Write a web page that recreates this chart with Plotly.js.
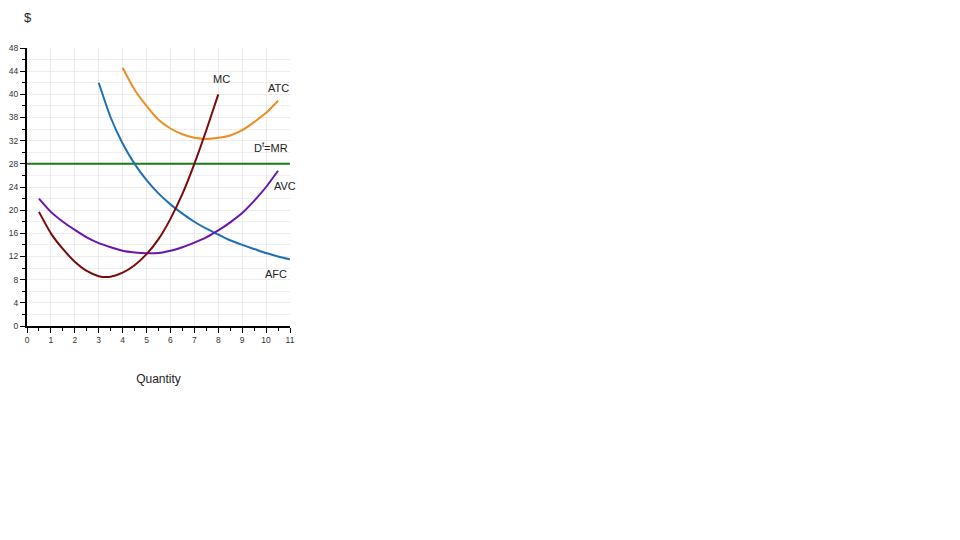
<!DOCTYPE html>
<html><head><meta charset="utf-8">
<script src="https://cdn.plot.ly/plotly-3.0.1.min.js"></script>
<style>html,body{margin:0;padding:0;background:#fff}#chart{width:960px;height:540px}</style>
</head><body><div id="chart"></div>
<script>
var mcQ  = [0.5,1,1.5,2,2.5,3,3.5,4,4.5,5,5.5,6,6.5,7,7.5,8];
var mcV  = [19.7,16,13.3,11.1,9.5,8.6,8.5,9.2,10.5,12.4,15,18.5,22.8,28,33.8,40];
var avcQ = [0.5,1,1.5,2,2.5,3,3.5,4,4.5,5,5.5,6,6.5,7,7.5,8,8.5,9,9.5,10,10.5];
var avcV = [22,19.7,18,16.6,15.3,14.3,13.6,13,12.7,12.55,12.6,13,13.6,14.4,15.3,16.5,17.9,19.5,21.6,24,26.8];
var afcQ = [3,3.5,4,4.5,5,5.5,6,6.5,7,7.5,8,8.5,9,9.5,10,10.5,11];
var afcV = [42,36,31.5,28,25.2,22.9,21,19.4,18,16.8,15.8,14.8,14,13.3,12.6,12,11.5];
var atcQ = [4,4.5,5,5.5,6,6.5,7,7.5,8,8.5,9,9.5,10,10.5];
var atcV = [44.6,40.8,38,35.6,34.1,33.1,32.5,32.3,32.5,32.9,33.8,35.2,36.8,38.9];
var mrQ  = [0,11];
var mrV  = [28,28];
var yTickVals = [0,4,8,12,16,20,24,28,32,36,40,44,48];
var yTickText = ["0","4","8","12","16","20","24","28","32","38","40","44","48"];
var xTickVals = [0,1,2,3,4,5,6,7,8,9,10,11];
var labels = [
  {t:"MC", x:8.12, y:42.7},
  {t:"ATC", x:10.5, y:41.1},
  {t:"D<sup>f</sup>=MR", x:10.2, y:30.9},
  {t:"AVC", x:10.8, y:24.2},
  {t:"AFC", x:10.4, y:9}
];
function line(x,y,c){return {x:x,y:y,type:'scatter',mode:'lines',line:{color:c,width:2,shape:'spline',smoothing:0.6},hoverinfo:'skip',showlegend:false};}
var data = [
  line(mrQ,mrV,'#1b7a1b'),
  line(afcQ,afcV,'#1f6fb8'),
  line(atcQ,atcV,'#ef8c22'),
  line(avcQ,avcV,'#6a14b0'),
  line(mcQ,mcV,'#7a0a0a')
];
var ann = labels.map(function(l){return {x:l.x,y:l.y,xref:'x',yref:'y',text:l.t,showarrow:false,font:{size:11,color:'#222',family:'Liberation Sans, Arial, sans-serif'}};});
ann.push({x:0.004,y:1.108,xref:'paper',yref:'paper',text:'$',showarrow:false,xanchor:'center',yanchor:'middle',font:{size:13,color:'#222',family:'Liberation Sans, Arial, sans-serif'}});
var layout = {
  width:960,height:540,
  margin:{l:27,r:670,t:48,b:214},
  paper_bgcolor:'#fff',plot_bgcolor:'#fff',
  font:{family:'Liberation Sans, Arial, sans-serif',color:'#333'},
  xaxis:{range:[0,11],tickvals:xTickVals,ticks:'outside',ticklen:5,tickcolor:'#000',tickwidth:1,
    showline:true,linecolor:'#000',linewidth:2,zeroline:false,showgrid:true,gridcolor:'#ececec',gridwidth:1,
    tickfont:{size:8.5,color:'#333'},
    minor:{dtick:0.5,ticks:'outside',ticklen:3,tickcolor:'#000',showgrid:false},
    title:{text:'Quantity',font:{size:12,color:'#222'},standoff:30},fixedrange:true},
  yaxis:{range:[0,48],tickvals:yTickVals,ticktext:yTickText,ticks:'outside',ticklen:5,tickcolor:'#000',tickwidth:1,
    showline:true,linecolor:'#000',linewidth:2,zeroline:false,showgrid:true,gridcolor:'#ececec',gridwidth:1,
    tickfont:{size:8.5,color:'#333'},
    minor:{dtick:2,tick0:0,ticks:'outside',ticklen:3,tickcolor:'#000',showgrid:true,gridcolor:'#efefef'},fixedrange:true},
  annotations:ann
};
Plotly.newPlot('chart',data,layout,{staticPlot:true,displayModeBar:false});
</script></body></html>
